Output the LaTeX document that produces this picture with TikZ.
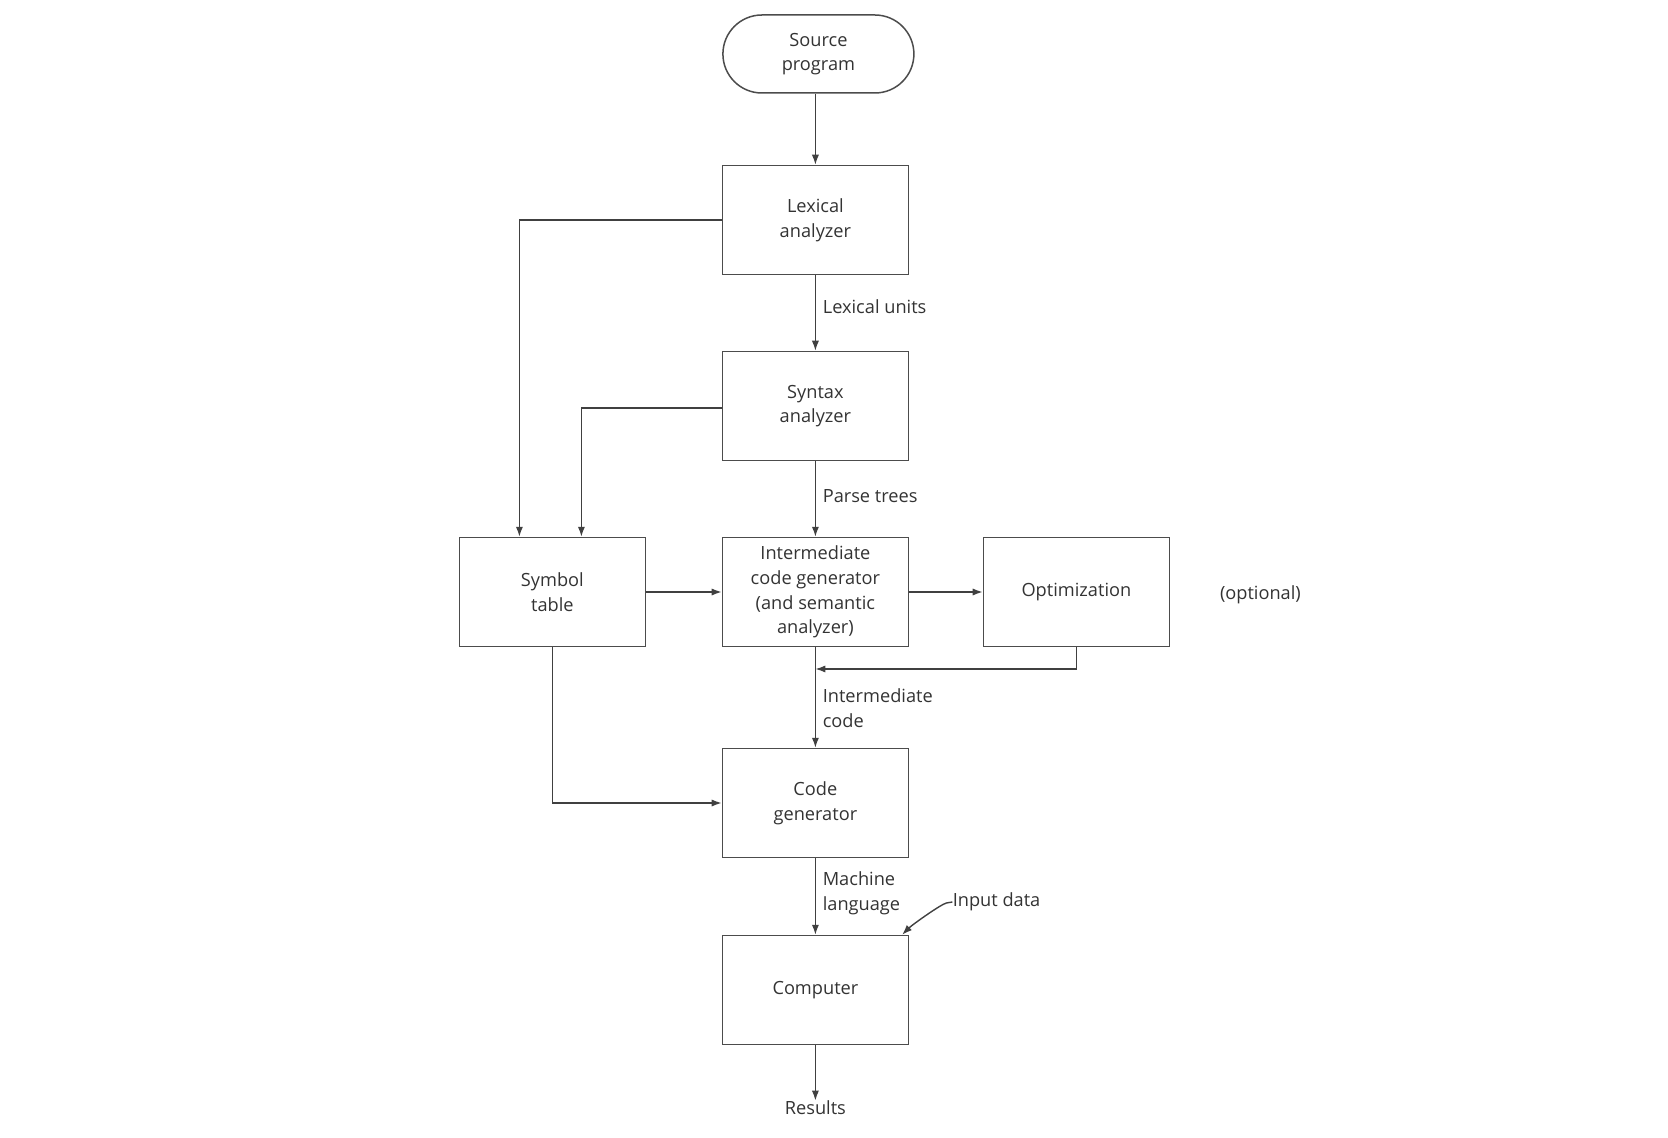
\documentclass[tikz,border=0pt]{standalone}
\usepackage{fontspec}
\setmainfont{Open Sans}
\usetikzlibrary{arrows.meta}
\begin{document}
\begin{tikzpicture}[x=0.5pt,y=-0.5pt,
  every node/.style={font=\fontsize{9.1}{12.3}\selectfont, text=black!80},
  box/.style={draw=black!70, line width=0.75pt, minimum width=93pt, minimum height=54.5pt, align=center, inner sep=1pt},
  term/.style={draw=black!70, line width=0.75pt, minimum width=95.5pt, minimum height=39pt, rounded corners=19.5pt, align=center},
  lbl/.style={align=left, inner sep=0pt, anchor=west},
  conn/.style={draw=black!75, line width=0.7pt, -{Latex[length=5pt,width=3.6pt]}},
  line/.style={draw=black!75, line width=0.7pt}]
\useasboundingbox (0,0) rectangle (1668,1138);
\begin{scope}[xshift=-1.8pt]
\node[term] (src) at (822,54) {Source\\program};
\node[box] (lex) at (819,220) {Lexical\\analyzer};
\node[box] (syn) at (819,406) {Syntax\\analyzer};
\node[box] (sym) at (556,592) {Symbol\\table};
\node[box] (icg) at (819,592) {Intermediate\\code generator\\(and semantic\\analyzer)};
\node[box] (opt) at (1080,592) {Optimization};
\node[inner sep=0pt] (optl) at (1264,595) {(optional)};
\node[box] (cg) at (819,803) {Code\\generator};
\node[box] (comp) at (819,990) {Computer};
\node[inner sep=0pt] (res) at (819,1108) {Results};
\node[lbl] (lu) at (826,307) {Lexical units};
\node[lbl] (pt) at (826,496) {Parse trees};
\node[lbl] (ic) at (826,708) {Intermediate\\code};
\node[lbl] (ml) at (826,893) {Machine\\language};
\node[lbl] (inp) at (956,902) {Input data};
\coordinate (symA) at (523,540);
\coordinate (symB) at (585,540);
\coordinate (merge) at (819,669);
\draw[conn] (src.south -| lex.north) -- (lex);
\draw[conn] (lex) -- (syn);
\draw[conn] (syn) -- (icg);
\draw[conn] (lex.west) -| (sym.north -| symA);
\draw[conn] ([yshift=-1pt]syn.west) -| (sym.north -| symB);
\draw[conn] (sym) -- (icg);
\draw[conn] (icg) -- (opt);
\draw[line] (icg.south) -- (merge);
\draw[conn] (opt.south) |- (merge);
\draw[conn] (merge) -- (cg.north);
\draw[conn] (sym.south) |- (cg.west);
\draw[conn] (cg) -- (comp);
\draw[conn] (comp) -- (res);
\draw[conn] (inp.west) -- ++(-6,1) .. controls ++(-5,1) and ++(10,-10) .. ([xshift=-3.5pt]comp.north east);
\end{scope}
\end{tikzpicture}
\end{document}
